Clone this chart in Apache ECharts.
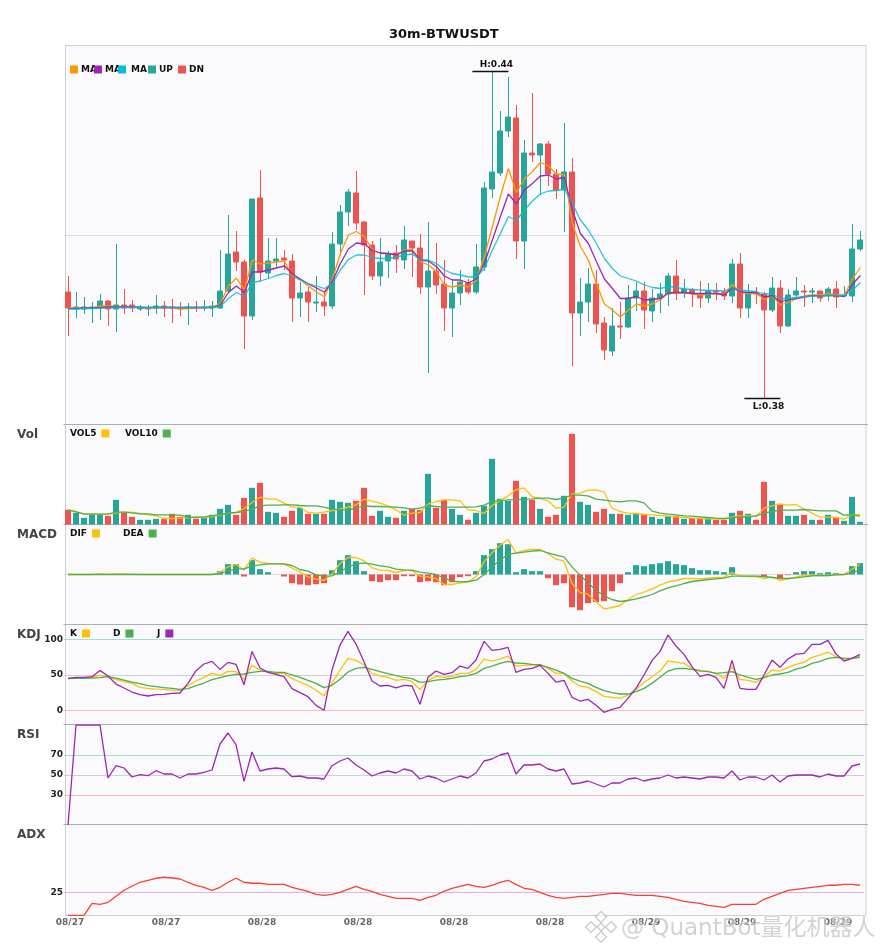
<!DOCTYPE html>
<html><head><meta charset="utf-8">
<style>html,body{margin:0;padding:0;background:#fff}#c{width:885px;height:950px}</style>
<script src="https://cdn.jsdelivr.net/npm/echarts@6/dist/echarts.min.js"></script>
</head><body><div id="c"></div>
<script>
const tickLabels=['08/27','08/27','08/28','08/28','08/28','08/28','08/29','08/29','08/29'];
const opens=[.3986,.3952,.3952,.3954,.3954,.3968,.3952,.3960,.3960,.3952,.3952,.3954,.3958,.3956,.3954,.3954,.3956,.3954,.3954,.3954,.3988,.4066,.4046,.3938,.4174,.4024,.4048,.4054,.4048,.3974,.3986,.3964,.3966,.3958,.4082,.4146,.4184,.4126,.4080,.4018,.4048,.4064,.4050,.4088,.4074,.3996,.4028,.4002,.3954,.3984,.4004,.3986,.4036,.4192,.4224,.4308,.4334,.4088,.4264,.4260,.4282,.4222,.4190,.4226,.3944,.3966,.4002,.3924,.3868,.3918,.3916,.3974,.3988,.3948,.3974,.3982,.4018,.3984,.3990,.3982,.3974,.3988,.3986,.3978,.4042,.3954,.3984,.3982,.3950,.3994,.3918,.3980,.3988,.3986,.3988,.3980,.3992,.3978,.3978,.4072];
const closes=[.3954,.3956,.3956,.3956,.3968,.3952,.3960,.3954,.3954,.3956,.3954,.3958,.3954,.3954,.3952,.3956,.3954,.3956,.3958,.3988,.4062,.4046,.3938,.4172,.4026,.4048,.4052,.4050,.3974,.3984,.3966,.3966,.3958,.4082,.4146,.4186,.4124,.4080,.4018,.4046,.4062,.4052,.4090,.4074,.3996,.4028,.4000,.3954,.3984,.4006,.3986,.4036,.4194,.4226,.4308,.4336,.4088,.4264,.4260,.4282,.4222,.4190,.4226,.3944,.3966,.4002,.3922,.3870,.3918,.3916,.3974,.3988,.3950,.3974,.3982,.4018,.3984,.3992,.3984,.3974,.3988,.3986,.3978,.4042,.3954,.3984,.3982,.3950,.3994,.3918,.3980,.3988,.3986,.3988,.3974,.3992,.3976,.3980,.4072,.4090];
const lows=[.3898,.3934,.3942,.3924,.3930,.3918,.3906,.3942,.3946,.3948,.3938,.3942,.3936,.3924,.3938,.3920,.3946,.3948,.3936,.3952,.3986,.4028,.3872,.3930,.4006,.4012,.4036,.4030,.3926,.3936,.3926,.3946,.3938,.3952,.4060,.4118,.4110,.3980,.4010,.3998,.4014,.4024,.4032,.4016,.3982,.3824,.3982,.3908,.3896,.3960,.3982,.3982,.4028,.4174,.4218,.4296,.4052,.4032,.4246,.4180,.4198,.4172,.4106,.3838,.3898,.3926,.3904,.3850,.3858,.3892,.3914,.3948,.3912,.3926,.3944,.3958,.3970,.3974,.3956,.3954,.3964,.3970,.3970,.3964,.3934,.3934,.3962,.3773,.3946,.3904,.3916,.3974,.3956,.3964,.3966,.3968,.3954,.3976,.3966,.4068];
const highs=[.4018,.3986,.3976,.3966,.3982,.3970,.4082,.3992,.3970,.3960,.3960,.3980,.3968,.3972,.3966,.3964,.3968,.3970,.3968,.4070,.4140,.4108,.4050,.4172,.4230,.4094,.4094,.4070,.4062,.4006,.3996,.4018,.3988,.4106,.4160,.4192,.4228,.4128,.4088,.4094,.4068,.4080,.4118,.4088,.4102,.4126,.4084,.4050,.4012,.4030,.4012,.4082,.4206,.4427,.4348,.4416,.4360,.4290,.4384,.4284,.4288,.4232,.4324,.4254,.4014,.4034,.4030,.3936,.3954,.3966,.4000,.4006,.4006,.3992,.4004,.4024,.4050,.4012,.3994,.4008,.4004,.4004,.3994,.4052,.4064,.4002,.3996,.3986,.4016,.4010,.3992,.4016,.4000,.3994,.3988,.3996,.4008,.3998,.4122,.4108];
const ma5=[.3954,.3954,.3954,.3954,.3958,.3958,.3957,.3956,.3956,.3955,.3954,.3955,.3955,.3955,.3952,.3953,.3954,.3955,.3956,.3963,.3998,.4014,.3990,.4050,.4042,.4044,.4046,.4048,.4018,.4010,.3998,.3986,.3976,.4012,.4063,.4100,.4107,.4097,.4070,.4063,.4063,.4060,.4070,.4071,.4047,.4040,.4027,.4000,.3996,.4000,.3996,.4010,.4057,.4117,.4177,.4233,.4185,.4212,.4227,.4245,.4238,.4222,.4220,.4123,.4077,.4050,.4003,.3962,.3950,.3936,.3950,.3962,.3958,.3962,.3970,.3985,.3983,.3985,.3982,.3980,.3982,.3983,.3981,.4001,.3985,.3983,.3983,.3971,.3978,.3960,.3965,.3973,.3978,.3980,.3980,.3983,.3980,.3980,.4012,.4035];
const ma10=[.3953,.3953,.3954,.3954,.3955,.3956,.3956,.3956,.3956,.3955,.3955,.3955,.3955,.3955,.3955,.3955,.3955,.3955,.3955,.3960,.3985,.3998,.3985,.4026,.4026,.4030,.4034,.4038,.4022,.4012,.4002,.3994,.3986,.4007,.4043,.4072,.4084,.4082,.4069,.4064,.4063,.4060,.4068,.4068,.4050,.4048,.4037,.4018,.4010,.4010,.4004,.4012,.4043,.4090,.4137,.4182,.4162,.4190,.4203,.4218,.4220,.4212,.4215,.4150,.4103,.4083,.4047,.4012,.3993,.3973,.3973,.3977,.3970,.3971,.3973,.3984,.3985,.3985,.3983,.3983,.3983,.3983,.3980,.3995,.3986,.3985,.3985,.3976,.3979,.3966,.3971,.3973,.3976,.3979,.3978,.3979,.3979,.3977,.4001,.4019];
const ma20=[.3952,.3952,.3953,.3953,.3954,.3954,.3955,.3955,.3955,.3955,.3955,.3955,.3955,.3955,.3955,.3955,.3955,.3955,.3955,.3957,.3973,.3985,.3977,.4005,.4008,.4013,.4019,.4023,.4017,.4010,.4003,.3998,.3993,.4003,.4030,.4051,.4060,.4060,.4055,.4053,.4053,.4056,.4060,.4062,.4050,.4050,.4043,.4030,.4023,.4020,.4016,.4016,.4033,.4070,.4103,.4137,.4129,.4150,.4168,.4182,.4188,.4189,.4192,.4163,.4130,.4110,.4083,.4053,.4033,.4018,.4013,.4008,.4000,.3995,.3993,.3997,.3995,.3992,.3991,.3990,.3989,.3989,.3988,.3995,.3990,.3988,.3987,.3982,.3982,.3973,.3973,.3975,.3977,.3978,.3978,.3979,.3979,.3979,.3989,.4005];
const volumes=[44,35,20,29,29,26,74,35,23,14,14,17,17,32,23,29,17,20,29,47,59,29,80,110,125,38,35,23,41,50,32,32,32,74,68,65,71,110,26,41,23,20,41,47,44,152,50,74,47,29,14,35,56,197,77,71,131,83,74,47,23,29,86,272,68,59,38,47,32,32,29,32,32,23,17,26,26,17,20,20,20,14,14,35,41,32,14,128,71,62,26,26,29,14,14,29,20,11,83,8];
const vol5=[44,39,32,32,31,31,35,37,37,33,29,26,18,18,19,20,23,21,23,28,34,36,48,66,82,76,76,64,52,52,36,34,37,42,46,52,59,76,70,64,56,44,28,34,36,61,69,74,74,71,44,42,33,57,71,86,104,110,84,78,71,49,52,92,94,103,104,98,49,39,34,33,30,29,27,25,23,21,19,18,17,16,16,22,26,26,24,49,56,61,58,60,46,34,23,22,21,16,29,30];
const vol10=[44,38,31,31,31,31,37,37,35,32,32,29,29,29,28,22,21,23,26,30,34,36,39,46,56,58,58,59,59,57,56,56,52,46,44,44,48,57,54,54,53,52,50,46,49,57,54,52,52,52,52,53,58,69,71,74,74,76,77,79,79,75,80,88,88,86,76,73,70,68,71,71,65,40,34,31,29,26,25,23,21,19,18,20,23,22,26,34,39,43,43,43,45,43,41,41,41,28,29,25];
const macdHist=[0,0,0,0,0,0,0,0,0,0,0,0,0,0,0,0,0,0,0,10,31,31,-6,43,16,7,0,-6,-26,-30,-32,-29,-26,13,43,58,40,10,-20,-23,-17,-17,-5,-5,-23,-20,-23,-32,-23,-8,-5,10,58,76,94,91,7,16,10,10,-11,-32,-26,-98,-107,-86,-83,-80,-50,-26,7,28,25,31,34,40,31,28,19,13,13,10,7,22,0,0,0,-7,0,-14,-2,7,10,10,4,7,4,0,25,34];
const dif=[0,0,0,0,2,1,2,2,1,0,0,0,0,0,0,0,0,0,0,7,23,30,13,49,37,33,32,31,20,8,-7,-14,-18,1,33,51,51,41,20,13,12,6,12,12,-5,-7,-12,-30,-30,-25,-23,-7,38,65,88,105,65,72,75,75,63,46,40,-27,-54,-59,-82,-103,-99,-93,-75,-60,-53,-44,-32,-22,-18,-12,-12,-13,-11,-9,-8,6,-4,-6,-6,-12,-7,-18,-13,-7,-3,-2,-3,-3,0,0,16,30];
const dea=[0,0,0,0,0,0,0,0,0,0,0,0,0,0,0,0,0,0,0,3,11,17,17,25,29,32,32,32,27,15,10,-1,-5,-4,8,23,31,35,31,26,23,16,14,13,7,4,0,-10,-20,-22,-21,-17,-1,23,43,61,64,67,70,72,65,58,53,23,-2,-25,-47,-64,-75,-81,-78,-73,-67,-60,-49,-40,-34,-27,-21,-18,-15,-13,-11,-5,-5,-5,-5,-6,-9,-11,-12,-10,-7,-4,-3,-3,-1,0,5,13];
const kLine=[45,45.5,46,46.5,49.3,47.4,43.7,40.4,38,32.4,31,30,29.6,28.6,28.2,34.7,41.3,46.5,52.1,49.3,54.9,54.5,43.7,63.4,56.8,54,52.1,52.1,44.6,39.9,35.2,28.2,20.7,38,56.8,73.2,70.4,63.9,52.1,48.4,46.5,42.3,43.7,40.8,29.1,41.8,47.9,46.5,47.9,52.1,52.1,57.7,72.3,69.5,72.3,76.5,62.4,63.4,63.9,63.9,59.2,52.1,52.1,41.3,34.3,32.4,26.3,19.7,18.3,16.9,21.6,29.6,39,47.4,55.4,69.5,68.1,66.2,59.2,54.9,55.4,52.1,45,61.5,43.7,42.3,39.4,46.5,56.8,55.4,60.6,64.8,67.6,74.7,77.9,82.2,75.6,71.8,73.2,76.5];
const dLine=[44.6,45,45,45.5,46,47.4,45.5,42.7,39.9,37.6,34.7,33.3,31.9,31,29.6,30.5,34.7,38.5,43.2,46,48.8,50.7,51.2,53.5,54.9,54.9,53.5,53.5,49.8,46.5,42.3,38,31.9,35.2,43.7,54,59.2,60.6,57.7,54.5,51.6,48.8,46.5,44.6,39.4,40.4,42.7,43.7,45,47.4,48.8,52.1,59.2,62.4,66.2,69,66.7,66.2,64.8,64.3,60.6,56.8,52.1,45,41.3,38,32.4,27.7,24.9,23,23,26.3,31,38,46.5,55.4,58.7,59.2,57.7,55.9,54.5,52.1,53.1,54.5,49.8,46.5,43.7,46,49.8,51.2,53.5,58.2,61,66.2,69,73.2,74.7,73.7,73.2,74.7];
const jLine=[45,46.5,46.5,47.4,56.3,48.4,37,31.5,25.8,22,20.2,22,22.5,24,24.4,38,55.9,65.3,69,57.7,67.6,64.8,36,83,59.6,53.5,50.7,47.4,30.5,24.9,19.2,7,0,56.8,92,111.3,93.4,68.5,41.3,34.3,35.2,31.5,35.2,34.3,8.5,46.5,55.4,50.7,53,62.4,59.2,70.9,97.2,84.5,85.9,88.7,53.5,57.7,59.2,63.4,52.1,39.9,42.3,18.3,13.1,15.5,7,-2.8,1.4,4.2,16.9,31,49.8,70,83.1,106.1,90.6,78.9,61.5,47.9,50.7,46.5,31,70.4,31,29.6,29.6,49.8,70.9,60.6,72.3,79.3,80.3,93,93,98.6,79.3,69.5,73.2,78.9];
const rsi=[0,100,100,100,100,47,59.3,57,48,50.3,49.3,54.3,51,51,47,51,51,52.7,55,81,92,80.3,43.7,73,54,56,57,56,48.3,49,47,47,46,59.3,64,67,60,55,49,52,54,52,56,54,46,49,47,43,46,49,47,52,64,66,70,72,51,60,60,61,56,54,56,41,42,44,41,38,42,42,46,47,44,46,47,50,47,48,47,46,48,48,47,54,45,48,48,45,50,43,49,50,50,50,48,51,49,49,59,61];
const adx=[0,0,0,13.2,12.1,14.3,20.9,27.5,31.9,36.3,38.5,40.7,41.8,41,39.9,36.3,33,30.8,27.5,30.8,36.3,40.7,36.3,35.2,35.2,34,34,34,30.8,28.6,26.4,23,22,23,25.3,28.6,31.9,28.6,26.4,23,20.9,18.7,18.7,18.7,16.5,19.8,22,26.4,29.7,31.9,34,31.9,30.8,33,36.3,38.5,34,29.7,28.6,25.3,22,19.8,18.7,19.8,20.9,20.9,22,23,24.2,24.2,23,22,22,22,20.9,19.8,17.6,15.4,14.3,13.2,11,9.9,8.8,12.1,12.1,12.1,12.1,17.6,20.9,24.2,27.5,28.6,29.7,30.8,31.9,33,33,34,34,33];

const UP='#26A69A',DN='#EF5350',FONT='"DejaVu Sans"';
const categories=opens.map((_,i)=>tickLabels[Math.floor(i/12)]);
const candleData=opens.map((o,i)=>[o,closes[i],lows[i],highs[i]]);
const volData=volumes.map((v,i)=>({value:v,itemStyle:{color:closes[i]>=opens[i]?UP:DN}}));
const histData=macdHist.map(v=>({value:v,itemStyle:{color:v>=0?UP:DN}}));

const panels=[[45.3,379.2],[424.5,100],[524.5,100],[624.5,100],[725,100],[824.3,91]];
const grids=panels.map((p,i)=>({left:i===0?64.4:64,width:800,top:p[0],height:p[1]}));
const xAxes=panels.map((p,i)=>({type:'category',gridIndex:i,data:categories,boundaryGap:true,
  axisLine:{show:false},axisTick:{show:false},splitLine:{show:false},
  axisLabel:i===5?{show:true,interval:11,margin:3,padding:[0,0,0,4],fontFamily:FONT,fontWeight:'bold',fontSize:9,color:'#666'}:{show:false}}));
const yBase=(i,min,max,vals)=>({type:'value',gridIndex:i,min,max,axisLine:{show:false},axisTick:{show:false},splitLine:{show:false},
  axisLabel:vals?{show:true,customValues:vals,margin:1,fontFamily:FONT,fontWeight:'bold',fontSize:9,color:'#222'}:{show:false}});
const yAxes=[yBase(0,.3721,.44794),yBase(1,0,300),yBase(2,-150,150),yBase(3,-20,121,[0,50,100]),yBase(4,0,100,[30,50,70]),yBase(5,0,100,[25])];
const line=(name,data,i,color,extra)=>Object.assign({type:'line',name,data,xAxisIndex:i,yAxisIndex:i,symbol:'none',showSymbol:false,
  lineStyle:{color,width:1.3},itemStyle:{color},silent:true,z:3},extra||{});
const hl=(c)=>({z:1,symbol:'none',silent:true,label:{show:false},animation:false,data:c.map(a=>({yAxis:a[0],lineStyle:{color:a[1],width:1,type:'solid'}}))});
const markers=(idx,val,text,lab,off)=>({coord:[idx,val],symbol:'rect',symbolSize:[36,1.5],symbolOffset:[-2,0],itemStyle:{color:'#111'},
  label:{show:true,formatter:text,position:lab,distance:3,offset:off,fontFamily:FONT,fontWeight:'bold',fontSize:9,color:'#111'}});
const series=[
 {type:'candlestick',name:'Price',data:candleData,xAxisIndex:0,yAxisIndex:0,barWidth:5.5,silent:true,progressive:0,
  itemStyle:{color:UP,color0:DN,borderColor:UP,borderColor0:DN,borderWidth:1}},
 line('MA5',ma5,0,'#FF9800',{markLine:hl([[.41,'#dcdce0']]),
  markPoint:{silent:true,animation:false,data:[markers(53,.4427,'H:0.44','top',[6,1]),markers(87,.3773,'L:0.38','bottom',[6,0])]}}),
 line('MA10',ma10,0,'#9C27B0'),line('MA20',ma20,0,'#00BCD4',{lineStyle:{color:'#00BCD4',width:1.3,opacity:.85}}),
 {type:'bar',name:'UP',data:[],xAxisIndex:0,yAxisIndex:0,itemStyle:{color:UP}},
 {type:'bar',name:'DN',data:[],xAxisIndex:0,yAxisIndex:0,itemStyle:{color:DN}},
 {type:'bar',name:'Volume',data:volData,xAxisIndex:1,yAxisIndex:1,barWidth:6,silent:true},
 line('VOL5',vol5,1,'#FFC107'),line('VOL10',vol10,1,'#4CAF50'),
 {type:'bar',name:'MACD',data:histData,xAxisIndex:2,yAxisIndex:2,barWidth:6,silent:true,markLine:hl([[0,'#dcdce0']])},
 line('DIF',dif,2,'#FFC107'),line('DEA',dea,2,'#4CAF50'),
 line('K',kLine,3,'#FFC107',{markLine:hl([[100,'#a5dcd8'],[50,'#cfcfd4'],[0,'#ffb8b8']])}),line('D',dLine,3,'#4CAF50'),line('J',jLine,3,'#9C27B0'),
 line('RSI',rsi,4,'#9C27B0',{markLine:hl([[70,'#a5dcd8'],[50,'#cfcfd4'],[30,'#ffb8b8']])}),
 line('ADX',adx,5,'#F44336',{markLine:hl([[25,'#e0b0ea']])})
];
const txt={fontFamily:FONT,fontWeight:'bold',fontSize:9,color:'#111'};
const tight=Object.assign({},txt,{padding:[0,0,0,-2]});
const lg=(name,left,top,opt)=>Object.assign({data:[name],left,top,padding:0,itemWidth:8,itemHeight:8,icon:'rect',selectedMode:false,textStyle:txt},opt||{});
const ma=()=>'MA';
const legends=[lg('MA5',70,65,{formatter:ma,textStyle:tight}),lg('MA10',94,65,{formatter:ma,textStyle:tight}),lg('MA20',118,65,{formatter:ma}),lg('UP',148,65,{textStyle:tight}),lg('DN',178,65,{textStyle:tight}),
 lg('VOL5',70,429,{align:'right'}),lg('VOL10',125,429,{align:'right'}),
 lg('DIF',70,529,{align:'right'}),lg('DEA',123,529,{align:'right'}),
 lg('K',70,629,{align:'right'}),lg('D',113,629,{align:'right'}),lg('J',157,629,{align:'right'})];
const side=(t,top)=>({text:t,left:17,top,padding:0,textStyle:{fontFamily:FONT,fontWeight:'bold',fontSize:12,color:'#444'}});
const titles=[{text:'30m-BTWUSDT',left:389,top:28,padding:0,textStyle:{fontFamily:FONT,fontWeight:'bold',fontSize:13,color:'#111'}},
 side('Vol',429),side('MACD',529),side('KDJ',629),side('RSI',729),side('ADX',829)];

const L=65.5,R=866,T=45.5,B=915.5;
const seps=[424.5,524.5,624.5,724.5,824.5];
const diamond=(cx,cy,r)=>({type:'polygon',z:50,silent:true,shape:{points:[[cx,cy-r],[cx+r,cy],[cx,cy+r],[cx-r,cy]]},style:{fill:'rgba(255,255,255,0.7)',stroke:'rgba(175,175,182,0.7)',lineWidth:1.2}});
const graphic=[
 {type:'rect',shape:{x:L,y:T,width:R-L,height:B-T},style:{fill:'#fafafc',stroke:'#cdcdd5',lineWidth:1},z:-5,silent:true},
 ...seps.map(y=>({type:'line',shape:{x1:L-2,y1:y,x2:R+2,y2:y},style:{stroke:'#adadb2',lineWidth:1},z:-4,silent:true})),
 {type:'text',x:621,y:918,z:50,silent:true,style:{text:'@ QuantBot量化机器人',fontFamily:'"DejaVu Sans","Noto Sans CJK SC"',fontSize:23,fill:'rgba(165,165,172,0.5)',stroke:'rgba(255,255,255,0.5)',lineWidth:1.5}},
 diamond(601,917,5.5),diamond(591,927,5.5),diamond(611,927,5.5),diamond(601,937,5.5),diamond(601,927,4)
];
const chart=echarts.init(document.getElementById('c'),null,{renderer:'canvas'});
chart.setOption({animation:false,backgroundColor:'#fff',title:titles,legend:legends,grid:grids,xAxis:xAxes,yAxis:yAxes,series,graphic});
</script></body></html>
